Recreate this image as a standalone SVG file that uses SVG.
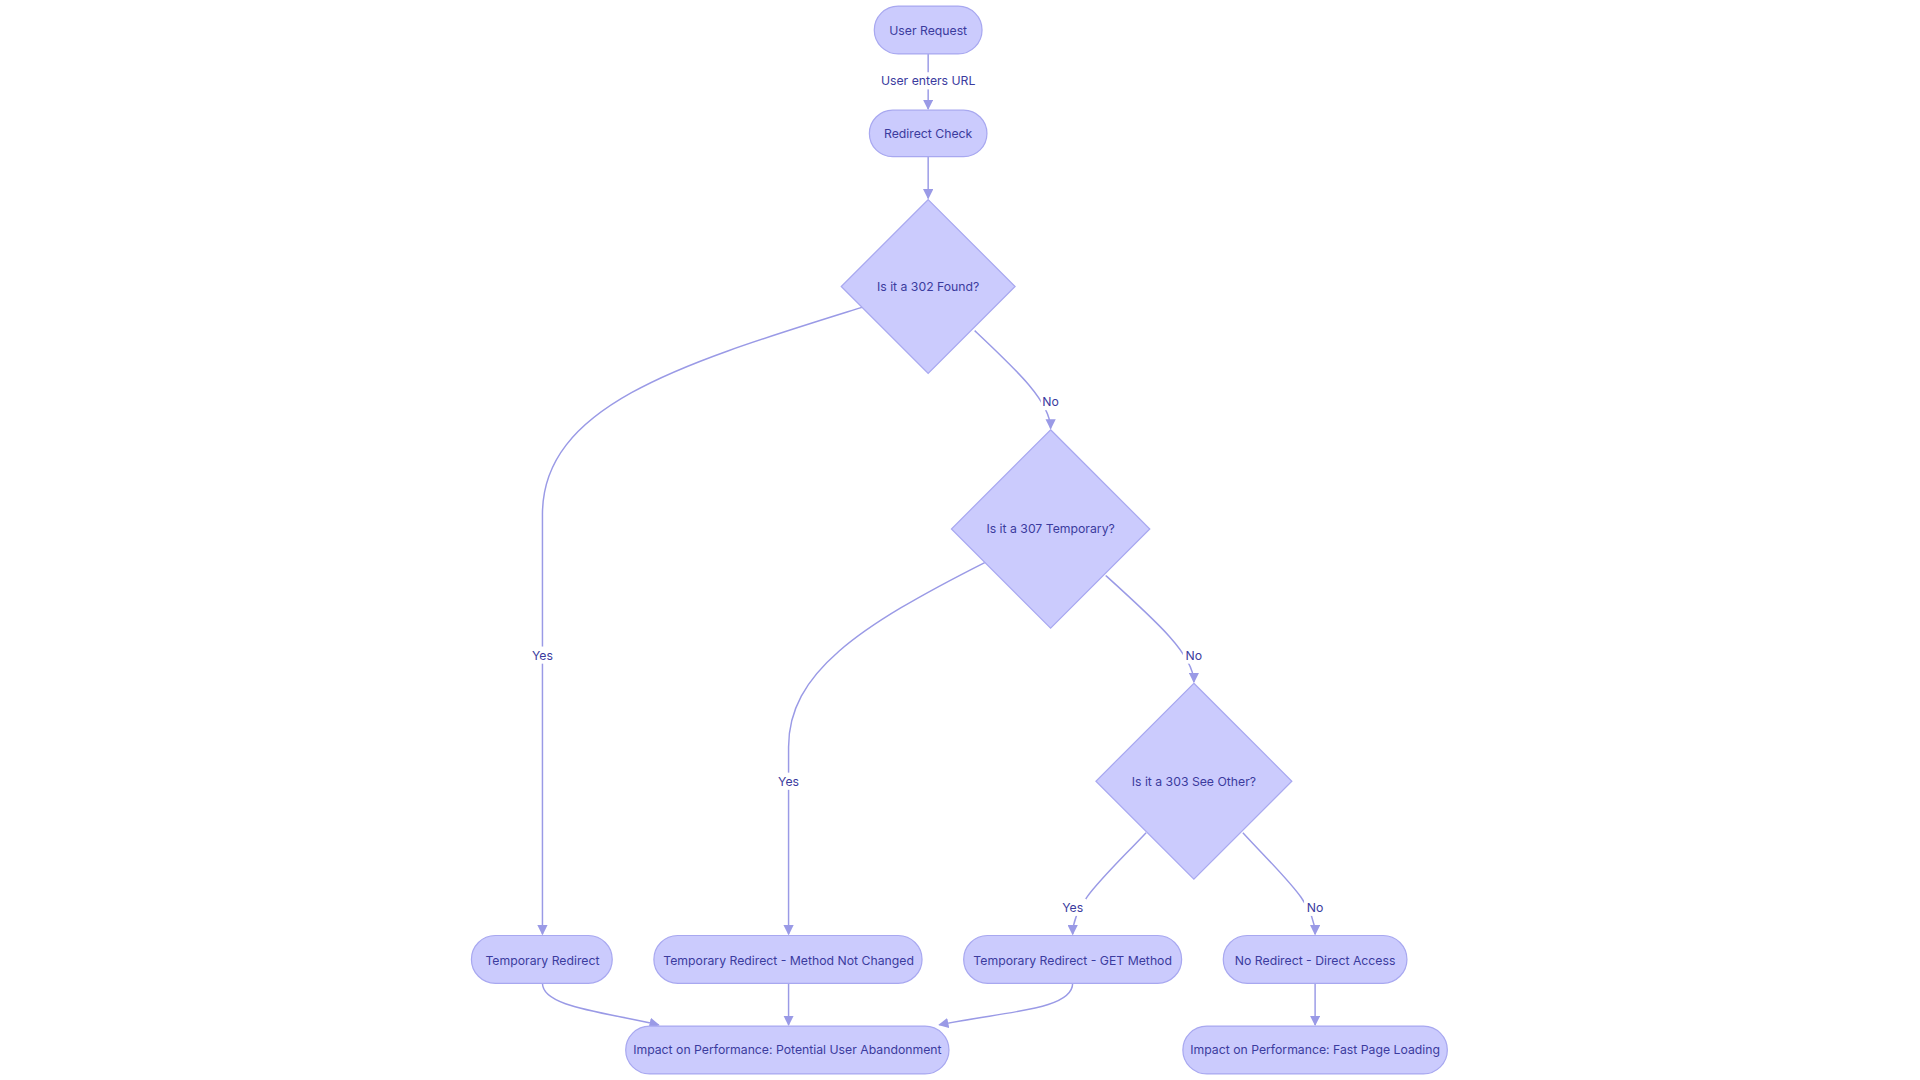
<svg xmlns="http://www.w3.org/2000/svg" width="1920" height="1080" viewBox="0 0 1920 1080">
<defs>
<style>
.n{fill:#cbcbfd;stroke:#a8a8f0;stroke-width:1}
.t{font-family:Inter,"Liberation Sans",sans-serif;font-size:10px;fill:#3b3b9e;text-anchor:middle;dominant-baseline:central}
.e{fill:none;stroke:#9a9ae6;stroke-width:1.2}
.lb{fill:#ffffff}
</style>
<marker id="a" viewBox="0 0 10 10" refX="9" refY="5" markerWidth="7" markerHeight="7" orient="auto"><path d="M0,0L10,5L0,10z" fill="#9a9ae6"/></marker>
</defs>
<rect width="1920" height="1080" fill="#fff"/>
<g transform="scale(1.22449)">
<g id="connectors">
<path class="e" marker-end="url(#a)" d="M758,44V89"/>
<path class="e" marker-end="url(#a)" d="M758,128V162"/>
<path class="e" marker-end="url(#a)" d="M704,251C560,296 443,330 443,420V763"/>
<path class="e" marker-end="url(#a)" d="M796,270C830,302 858,328 858,350"/>
<path class="e" marker-end="url(#a)" d="M805,459C700,512 644,550 644,610V763"/>
<path class="e" marker-end="url(#a)" d="M903,470C945,508 975,535 975,557"/>
<path class="e" marker-end="url(#a)" d="M936,680C900,718 876,738 876,763"/>
<path class="e" marker-end="url(#a)" d="M1015,680C1050,718 1074,738 1074,763"/>
<path class="e" marker-end="url(#a)" d="M443,803C443,822 490,826 538,837"/>
<path class="e" marker-end="url(#a)" d="M644,803V837"/>
<path class="e" marker-end="url(#a)" d="M876,803C876,825 820,826 767,837"/>
<path class="e" marker-end="url(#a)" d="M1074,803V837"/>
<rect class="lb" x="720" y="59" width="76" height="14"/><text class="t" x="758" y="66">User enters URL</text>
<rect class="lb" x="850" y="321" width="17" height="14"/><text class="t" x="858" y="328">No</text>
<rect class="lb" x="432" y="528" width="22" height="14"/><text class="t" x="443" y="535">Yes</text>
<rect class="lb" x="966" y="528" width="17" height="14"/><text class="t" x="975" y="535">No</text>
<rect class="lb" x="633" y="631" width="22" height="14"/><text class="t" x="644" y="638">Yes</text>
<rect class="lb" x="865" y="734" width="22" height="14"/><text class="t" x="876" y="741">Yes</text>
<rect class="lb" x="1065" y="734" width="17" height="14"/><text class="t" x="1074" y="741">No</text>
</g>
<g id="n1"><rect class="n" x="714" y="5" width="88" height="39" rx="19.5"/><text class="t" x="758" y="25">User Request</text></g>
<g id="n2"><rect class="n" x="710" y="90" width="96" height="38" rx="19"/><text class="t" x="758" y="109">Redirect Check</text></g>
<g id="d1"><polygon class="n" points="758,163 829,234 758,305 687,234"/><text class="t" x="758" y="234">Is it a 302 Found?</text></g>
<g id="d2"><polygon class="n" points="858,351 939,432 858,513 777,432"/><text class="t" x="858" y="432">Is it a 307 Temporary?</text></g>
<g id="d3"><polygon class="n" points="975,558 1055,638 975,718 895,638"/><text class="t" x="975" y="638">Is it a 303 See Other?</text></g>
<g id="n3"><rect class="n" x="385" y="764" width="115" height="39" rx="19.5"/><text class="t" x="443" y="784">Temporary Redirect</text></g>
<g id="n4"><rect class="n" x="534" y="764" width="219" height="39" rx="19.5"/><text class="t" x="644" y="784">Temporary Redirect - Method Not Changed</text></g>
<g id="n5"><rect class="n" x="787" y="764" width="178" height="39" rx="19.5"/><text class="t" x="876" y="784">Temporary Redirect - GET Method</text></g>
<g id="n6"><rect class="n" x="999" y="764" width="150" height="39" rx="19.5"/><text class="t" x="1074" y="784">No Redirect - Direct Access</text></g>
<g id="n7"><rect class="n" x="511" y="838" width="264" height="39" rx="19.5"/><text class="t" x="643" y="857">Impact on Performance: Potential User Abandonment</text></g>
<g id="n8"><rect class="n" x="966" y="838" width="216" height="39" rx="19.5"/><text class="t" x="1074" y="857">Impact on Performance: Fast Page Loading</text></g>
</g>
</svg>
